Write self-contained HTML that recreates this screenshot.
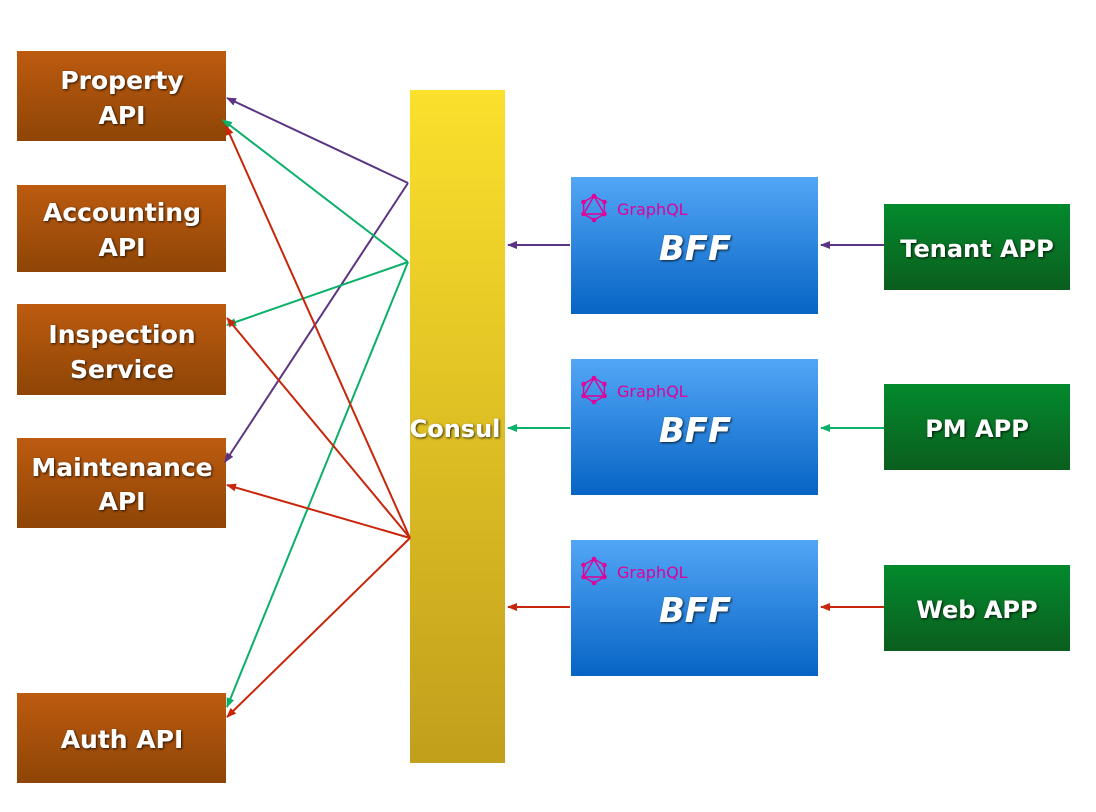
<!DOCTYPE html>
<html><head><meta charset="utf-8"><style>
html,body{margin:0;padding:0;background:#fff;}
svg{display:block;}
text{font-family:"DejaVu Sans","Liberation Sans",sans-serif;}
</style></head><body>
<svg width="1096" height="812" viewBox="0 0 1096 812" xmlns="http://www.w3.org/2000/svg">
<defs>
<linearGradient id="or" x1="0" y1="0" x2="0" y2="1"><stop offset="0" stop-color="#bd5b10"/><stop offset="1" stop-color="#8e4506"/></linearGradient>
<linearGradient id="bl" x1="0" y1="0" x2="0" y2="1"><stop offset="0" stop-color="#52a6f6"/><stop offset="1" stop-color="#0764c4"/></linearGradient>
<linearGradient id="gr" x1="0" y1="0" x2="0" y2="1"><stop offset="0" stop-color="#038a2d"/><stop offset="1" stop-color="#0b5e1e"/></linearGradient>
<linearGradient id="ye" x1="0" y1="0" x2="0" y2="1"><stop offset="0" stop-color="#fbe02c"/><stop offset="1" stop-color="#c29f1c"/></linearGradient>
<filter id="sh"><feDropShadow dx="1" dy="1" stdDeviation="1.2" flood-color="#000" flood-opacity="0.8"/></filter>
<marker id="mp" markerWidth="10" markerHeight="8" refX="9" refY="4" orient="auto" markerUnits="userSpaceOnUse"><path d="M0,0 L10,4 L0,8 z" fill="#5b3583"/></marker>
<marker id="mg" markerWidth="10" markerHeight="8" refX="9" refY="4" orient="auto" markerUnits="userSpaceOnUse"><path d="M0,0 L10,4 L0,8 z" fill="#0bb06a"/></marker>
<marker id="mr" markerWidth="10" markerHeight="8" refX="9" refY="4" orient="auto" markerUnits="userSpaceOnUse"><path d="M0,0 L10,4 L0,8 z" fill="#c8260a"/></marker>
<g id="gq" fill="none" stroke="#e10098" stroke-width="1.4"><polygon points="0,-12 10.4,-6 10.4,6 0,12 -10.4,6 -10.4,-6"/><polygon points="0,-12 10.4,6 -10.4,6"/><g fill="#e10098" stroke="none"><circle cx="0" cy="-12" r="2.3"/><circle cx="10.4" cy="-6" r="2.3"/><circle cx="10.4" cy="6" r="2.3"/><circle cx="0" cy="12" r="2.3"/><circle cx="-10.4" cy="6" r="2.3"/><circle cx="-10.4" cy="-6" r="2.3"/></g></g>
</defs>

<rect x="17" y="51" width="209" height="90" fill="url(#or)"/>
<rect x="17" y="185" width="209" height="87" fill="url(#or)"/>
<rect x="17" y="304" width="209" height="91" fill="url(#or)"/>
<rect x="17" y="438" width="209" height="90" fill="url(#or)"/>
<rect x="17" y="693" width="209" height="90" fill="url(#or)"/>
<g font-weight="bold" font-size="25" fill="#fff" text-anchor="middle" filter="url(#sh)">
<text x="122" y="89">Property</text><text x="122" y="124">API</text>
<text x="122" y="221">Accounting</text><text x="122" y="256">API</text>
<text x="122" y="343">Inspection</text><text x="122" y="378">Service</text>
<text x="122" y="476">Maintenance</text><text x="122" y="510">API</text>
<text x="122" y="748">Auth API</text>
</g>

<rect x="410" y="90" width="95" height="673" fill="url(#ye)"/>
<text x="455" y="437" font-size="24" font-weight="bold" fill="#fff" text-anchor="middle" filter="url(#sh)">Consul</text>

<g stroke-width="2" fill="none">
<line x1="408" y1="183" x2="227" y2="98" stroke="#5b3583" marker-end="url(#mp)"/>
<line x1="408" y1="183" x2="225" y2="462" stroke="#5b3583" marker-end="url(#mp)"/>
<line x1="408" y1="262" x2="223" y2="120" stroke="#0bb06a" marker-end="url(#mg)"/>
<line x1="408" y1="262" x2="227" y2="325" stroke="#0bb06a" marker-end="url(#mg)"/>
<line x1="408" y1="262" x2="227" y2="707" stroke="#0bb06a" marker-end="url(#mg)"/>
<line x1="410" y1="538" x2="226" y2="126" stroke="#c8260a" marker-end="url(#mr)"/>
<line x1="410" y1="538" x2="227" y2="318" stroke="#c8260a" marker-end="url(#mr)"/>
<line x1="410" y1="538" x2="227" y2="485" stroke="#c8260a" marker-end="url(#mr)"/>
<line x1="410" y1="538" x2="227" y2="717" stroke="#c8260a" marker-end="url(#mr)"/>
<line x1="570" y1="245" x2="508" y2="245" stroke="#5b3583" marker-end="url(#mp)"/>
<line x1="570" y1="428" x2="508" y2="428" stroke="#0bb06a" marker-end="url(#mg)"/>
<line x1="570" y1="607" x2="508" y2="607" stroke="#c8260a" marker-end="url(#mr)"/>
<line x1="884" y1="245" x2="821" y2="245" stroke="#5b3583" marker-end="url(#mp)"/>
<line x1="884" y1="428" x2="821" y2="428" stroke="#0bb06a" marker-end="url(#mg)"/>
<line x1="884" y1="607" x2="821" y2="607" stroke="#c8260a" marker-end="url(#mr)"/>
</g>

<rect x="571" y="177" width="247" height="137" fill="url(#bl)"/>
<rect x="571" y="359" width="247" height="136" fill="url(#bl)"/>
<rect x="571" y="540" width="247" height="136" fill="url(#bl)"/>
<use href="#gq" x="594" y="208"/><use href="#gq" x="594" y="390"/><use href="#gq" x="594" y="571"/>
<g font-size="16" fill="#e10098" font-family="Liberation Sans, sans-serif">
<text x="617" y="215">GraphQL</text><text x="617" y="397">GraphQL</text><text x="617" y="578">GraphQL</text>
</g>
<g font-size="34" font-weight="bold" font-style="italic" fill="#fff" text-anchor="middle" filter="url(#sh)">
<text x="695" y="260">BFF</text><text x="695" y="442">BFF</text><text x="695" y="622">BFF</text>
</g>

<rect x="884" y="204" width="186" height="86" fill="url(#gr)"/>
<rect x="884" y="384" width="186" height="86" fill="url(#gr)"/>
<rect x="884" y="565" width="186" height="86" fill="url(#gr)"/>
<g font-size="24" font-weight="bold" fill="#fff" text-anchor="middle" filter="url(#sh)">
<text x="977" y="257">Tenant APP</text><text x="977" y="437">PM APP</text><text x="977" y="618">Web APP</text>
</g>
</svg>
</body></html>
